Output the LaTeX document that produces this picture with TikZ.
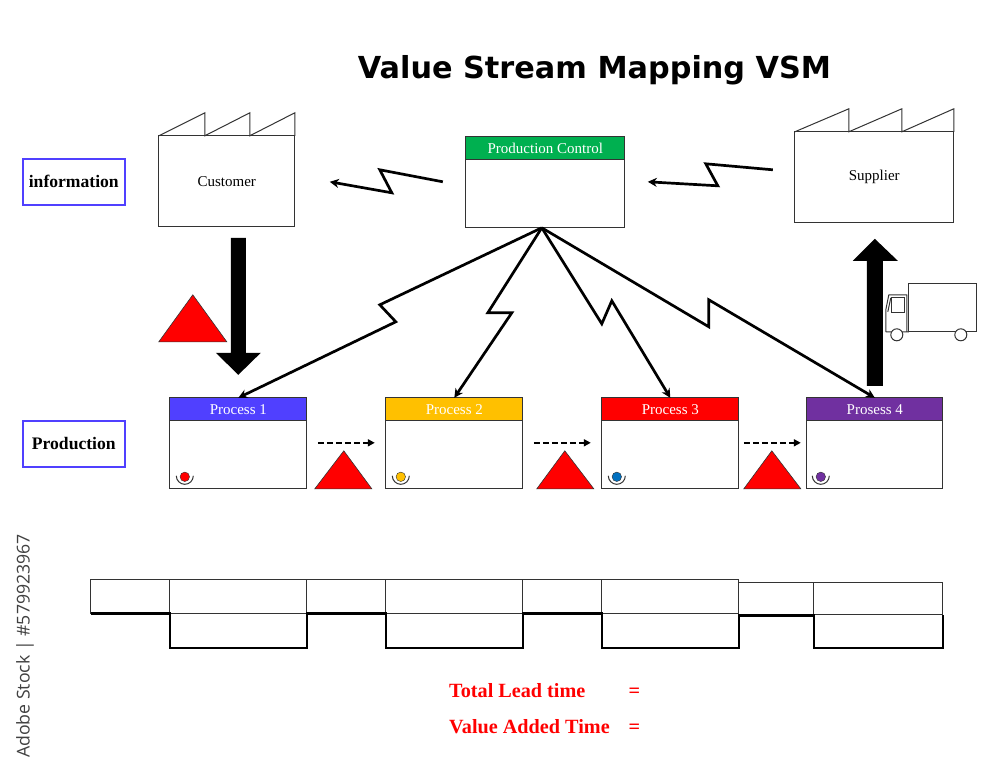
\documentclass[tikz,border=0pt]{standalone}
\usepackage{fontspec}
\setmainfont{Liberation Serif}
\newfontfamily\titlefont{DejaVu Sans}
\newfontfamily\sidefont{Open Sans}
\definecolor{pblue}{HTML}{5040FF}
\definecolor{pyellow}{HTML}{FFC000}
\definecolor{pgreen}{HTML}{00B050}
\definecolor{ppurple}{HTML}{7030A0}
\definecolor{pdotblue}{HTML}{0070C0}
\definecolor{linegray}{HTML}{333333}
\usetikzlibrary{arrows.meta}
\tikzset{
  outline/.style={draw=linegray,line width=1pt,fill=white,inner sep=0pt,outer sep=0pt},
  hdr/.style={draw=linegray,line width=1pt,text=white,inner sep=0pt,outer sep=0pt,font=\fontsize{15}{16}\selectfont},
  lab/.style={draw=pblue,line width=1.7pt,fill=white,inner sep=0pt,outer sep=0pt,font=\bfseries\fontsize{17.6}{19}\selectfont},
  bolt/.style={draw=black,line width=2.7pt,line join=miter,-{Stealth[length=9pt,width=9pt]}},
  flow/.style={draw=black,line width=2.3pt,dash pattern=on 6pt off 3pt,-{Stealth[length=7pt,width=7pt,inset=0pt]}},
  thick step/.style={draw=black,line width=2.6pt,line join=miter},
  thin/.style={draw=linegray,line width=1pt},
  tri/.style={fill=red,draw=linegray,line width=0.6pt,line join=miter},
  bigarrow/.style={fill=black,draw=none},
  sumtext/.style={text=red,anchor=base west,inner sep=0pt,font=\bfseries\fontsize{20.2}{22}\selectfont},
}
\newcommand{\procbox}[7]{% name x1 x2 colour label dotcolour dotx
  \node[outline,minimum width=#3pt-#2pt,minimum height=91pt,anchor=north west] (#1) at (#2,398) {};
  \node[hdr,fill=#4,minimum width=#3pt-#2pt,minimum height=23pt,anchor=north west] (#1h) at (#2,398) {#5};
  \node[circle,fill=#6,draw=linegray,line width=0.4pt,minimum size=9.5pt,inner sep=0pt] (#1d) at (#7,477) {};
  \draw[linegray,line width=1pt] (#7-8.5,476) arc[start angle=180,end angle=360,radius=8.5pt];
}
\begin{document}
\begin{tikzpicture}[x=1pt,y=-1pt]
\useasboundingbox (0,0) rectangle (1000,773);
\fill[white] (0,0) rectangle (1000,773);

\node[anchor=center,inner sep=0pt] (title) at (594.5,70) {\titlefont\bfseries\fontsize{30.3}{36}\selectfont Value Stream Mapping VSM};

\begin{scope}[shift={(-0.2,-0.2)}]
\node[lab,minimum width=102pt,minimum height=46pt] (info) at (74,182) {information};
\node[lab,minimum width=102pt,minimum height=46pt] (prod) at (74,444) {Production};

% Customer
\node[outline,minimum width=136pt,minimum height=91pt,font=\fontsize{15}{16}\selectfont] (customer) at (227,181.5) {Customer};
\draw[outline,fill=none,line join=miter] (159,136) -- (205,113) -- (205,136) -- (250,113) -- (250,136) -- (295,113) -- (295,136);
% Supplier
\node[outline,minimum width=159pt,minimum height=91pt,font=\fontsize{15}{16}\selectfont] (supplier) at (874.5,177.5) {Supplier};
\draw[outline,fill=none,line join=miter] (795,132) -- (849,109) -- (849,132) -- (902,109) -- (902,132) -- (954,109) -- (954,132);

% Production control
\node[outline,minimum width=159pt,minimum height=91pt,anchor=north west] (pc) at (466,137) {};
\node[hdr,fill=pgreen,minimum width=159pt,minimum height=23pt,anchor=north west] (pch) at (466,137) {Production Control};

% Processes
\procbox{pa}{170}{307}{pblue}{Process 1}{red}{185}
\procbox{pb}{386}{523}{pyellow}{Process 2}{pyellow}{401}
\procbox{pc3}{602}{739}{red}{Process 3}{pdotblue}{617}
\procbox{pd}{807}{943}{ppurple}{Prosess 4}{ppurple}{821}

% Lightning connectors
\coordinate (hub) at (542,228);
\coordinate (cs) at (443,182);
\coordinate (ce) at (330,182);
\coordinate (ss) at (773,170);
\coordinate (se) at (648,182);
\path[bolt] (cs) -- (380,170) -- (392,193) -- (ce);
\path[bolt] (ss) -- (706,164) -- (718,186) -- (se);
\path[bolt] (hub) -- (380,305) -- (396,322) -- (pa.north);
\path[bolt] (hub) -- (488,313) -- (512,313) -- (pb.north);
\path[bolt] (hub) -- (602,324) -- (612,301) -- (pc3.north);
\path[bolt] (hub) -- (709,327) -- (709,300) -- (pd.north);

% Big arrows
\fill[bigarrow] (231,238) -- (246,238) -- (246,353) -- (261,353) -- (238.5,375) -- (216,353) -- (231,353) -- cycle;
\fill[bigarrow] (867,386) -- (883,386) -- (883,261) -- (898,261) -- (875,239) -- (853,261) -- (867,261) -- cycle;

% Triangles
\draw[tri] (159,342) -- (227,342) -- (193,295) -- cycle;
\draw[tri] (315,489) -- (372,489) -- (344,451) -- cycle;
\draw[tri] (537,489) -- (594,489) -- (565,451) -- cycle;
\draw[tri] (744,489) -- (801,489) -- (772,451) -- cycle;

% Dashed push arrows
\coordinate (fa) at (318,443); \coordinate (fb) at (375,443);
\coordinate (fc) at (534,443); \coordinate (fd) at (591,443);
\coordinate (fe) at (744,443); \coordinate (ff) at (801,443);
\path[flow] (fa) -- (fb);
\path[flow] (fc) -- (fd);
\path[flow] (fe) -- (ff);

% Truck
\draw[linegray,line width=1pt,fill=white,line join=miter] (909,284) rectangle (977,332);
\draw[linegray,line width=1pt,fill=white,line join=round] (909,332) -- (886,332) -- (886,310) -- (889,295) -- (907,295) -- (907,332);
\draw[linegray,line width=1pt,fill=white] (892,298) rectangle (905,313);
\draw[linegray,line width=1pt] (888,312) -- (891,298);
\draw[linegray,line width=1pt,fill=white] (897,335) circle[radius=6pt];
\draw[linegray,line width=1pt,fill=white] (961,335) circle[radius=6pt];

% Timeline
\draw[thin] (91,580) rectangle (170,614);
\draw[thin] (170,580) rectangle (307,614);
\draw[thin] (307,580) rectangle (386,614);
\draw[thin] (386,580) rectangle (523,614);
\draw[thin] (523,580) rectangle (602,614);
\draw[thin] (602,580) rectangle (739,614);
\draw[thin] (739,583) rectangle (814,615);
\draw[thin] (814,583) rectangle (943,615);
\draw[thick step] (91,613.5) -- (170,613.5) -- (170,648) -- (307,648) -- (307,613.5) -- (386,613.5) -- (386,648) -- (523,648) -- (523,613.5) -- (602,613.5) -- (602,648) -- (739,648) -- (739,615.5) -- (814,615.5) -- (814,648) -- (943,648) -- (943,615);
\end{scope}

% Summary
\node[sumtext] (lead) at (449,697) {Total Lead time};
\node[sumtext] (leadeq) at (628.5,697) {=};
\node[sumtext] (value) at (449,733) {Value Added Time};
\node[sumtext] (valueeq) at (628.5,733) {=};

\node[rotate=90,inner sep=0pt,text=black!75,font=\sidefont\fontsize{17.7}{20}\selectfont] (side) at (25,646) {Adobe Stock | \#579923967};
\end{tikzpicture}
\end{document}
